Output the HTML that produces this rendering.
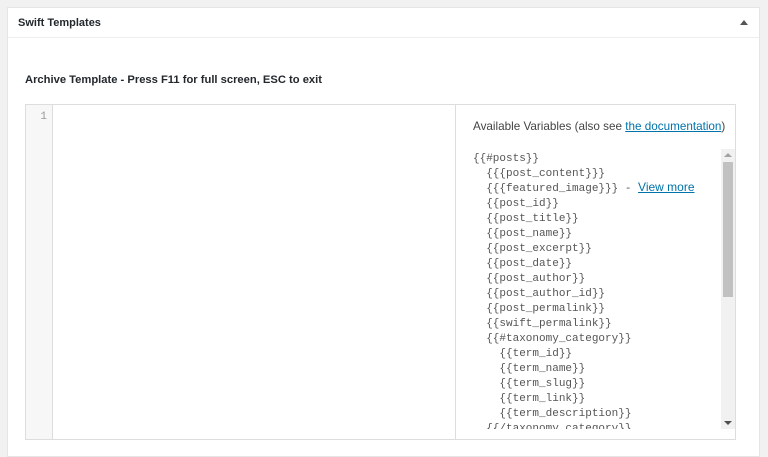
<!DOCTYPE html>
<html><head><style>
body{margin:0;width:768px;height:450px;background:#f1f1f1;font-family:"Liberation Sans",sans-serif;overflow:hidden;position:relative}
.panel{position:absolute;left:7px;top:7px;width:753px;height:450px;background:#fff;border:1px solid #e5e5e5;box-sizing:border-box}
.hdr{position:absolute;left:0;top:0;right:0;height:29px;border-bottom:1px solid #eee}
.hdr span{position:absolute;left:10px;top:9px;font-size:11px;font-weight:bold;color:#23282d}
.tri{position:absolute;right:11px;top:12px;width:0;height:0;border-left:4px solid transparent;border-right:4px solid transparent;border-bottom:5px solid #555}
.lbl{position:absolute;left:25px;top:74px;font-size:11.2px;font-weight:bold;color:#23282d}
.ed{position:absolute;left:25px;top:104px;width:711px;height:336px;border:1px solid #ddd;box-sizing:border-box;background:#fff}
.gut{position:absolute;left:0;top:0;width:26px;height:100%;background:#f7f7f7;border-right:1px solid #ddd}
.gut span{position:absolute;right:5px;top:6px;font:11px "Liberation Mono",monospace;color:#999}
.div{position:absolute;left:429px;top:0;width:1px;height:100%;background:#ddd}
.av{position:absolute;left:473px;top:120px;font-size:11.7px;color:#444}
.av a{color:#0073aa;text-decoration:underline}
.list{position:absolute;left:473px;top:149px;width:248px;height:280px;overflow:hidden}
pre{margin:0;padding-top:3px;font:11px/15px "Liberation Mono",monospace;color:#555}
pre a{color:#0073aa;text-decoration:underline;font-family:"Liberation Sans",sans-serif;font-size:12px;line-height:10px}
.sb{position:absolute;left:721px;top:149px;width:14px;height:280px;background:#f1f1f1}
.th{position:absolute;left:2px;top:13px;width:10px;height:135px;background:#c1c1c1}
.up{position:absolute;left:3px;top:4px;border-left:4px solid transparent;border-right:4px solid transparent;border-bottom:4px solid #a3a3a3}
.dn{position:absolute;left:3px;bottom:4px;border-left:4px solid transparent;border-right:4px solid transparent;border-top:4px solid #505050}
</style></head><body>
<div class="panel"><div class="hdr"><span>Swift Templates</span><div class="tri"></div></div></div>
<div class="lbl">Archive Template - Press F11 for full screen, ESC to exit</div>
<div class="ed"><div class="gut"><span>1</span></div><div class="div"></div></div>
<div class="av">Available Variables (also see <a>the documentation</a>)</div>
<div class="list"><pre>{{#posts}}
  {{{post_content}}}
  {{{featured_image}}} - <a>View more</a>
  {{post_id}}
  {{post_title}}
  {{post_name}}
  {{post_excerpt}}
  {{post_date}}
  {{post_author}}
  {{post_author_id}}
  {{post_permalink}}
  {{swift_permalink}}
  {{#taxonomy_category}}
    {{term_id}}
    {{term_name}}
    {{term_slug}}
    {{term_link}}
    {{term_description}}
  {{/taxonomy_category}}</pre></div>
<div class="sb"><div class="up"></div><div class="th"></div><div class="dn"></div></div>
</body></html>
